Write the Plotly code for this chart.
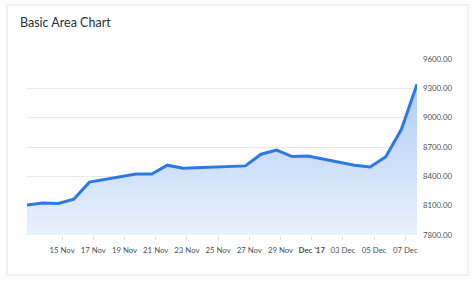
import plotly.graph_objects as go

dates = ["2017-11-13", "2017-11-14", "2017-11-15", "2017-11-16", "2017-11-17",
         "2017-11-20", "2017-11-21", "2017-11-22", "2017-11-23", "2017-11-24",
         "2017-11-27", "2017-11-28", "2017-11-29", "2017-11-30", "2017-12-01",
         "2017-12-04", "2017-12-05", "2017-12-06", "2017-12-07", "2017-12-08"]
prices = [8107.85, 8128.0, 8122.9, 8165.5, 8340.7,
          8423.7, 8423.5, 8514.3, 8481.85, 8487.7,
          8506.9, 8626.2, 8668.95, 8602.3, 8607.55,
          8512.9, 8496.25, 8600.65, 8881.1, 9340.85]

x_tick_vals = ["2017-11-15 06:00", "2017-11-17 06:00", "2017-11-19 06:00", "2017-11-21 06:00",
               "2017-11-23 06:00", "2017-11-25 06:00", "2017-11-27 06:00", "2017-11-29 06:00",
               "2017-12-01 06:00", "2017-12-03 06:00", "2017-12-05 06:00", "2017-12-07 06:00"]
x_tick_text = ["15 Nov", "17 Nov", "19 Nov", "21 Nov", "23 Nov", "25 Nov", "27 Nov",
               "29 Nov", "<b>Dec '17</b>", "03 Dec", "05 Dec", "07 Dec"]
y_tick_vals = [7800, 8100, 8400, 8700, 9000, 9300, 9600]
y_tick_text = ["7800.00", "8100.00", "8400.00", "8700.00", "9000.00", "9300.00", "9600.00"]

fig = go.Figure()
fig.add_trace(go.Scatter(
    x=dates, y=prices, mode="lines",
    line=dict(color="#2c78e4", width=3),
    fill="tozeroy",
    fillgradient=dict(type="vertical", start=7800, stop=max(prices),
                      colorscale=[[0, "rgba(233,241,253,1)"], [1, "rgba(176,205,246,1)"]]),
    hoverinfo="skip",
))

# card outline
fig.add_shape(type="rect", xref="paper", yref="paper",
              x0=(7 - 27) / 390, x1=(468 - 27) / 390,
              y0=(235 - 275) / 176, y1=(235 - 5) / 176,
              line=dict(color="#eeeeee", width=1.5), fillcolor="rgba(0,0,0,0)", layer="below")

fig.update_layout(
    width=474, height=285,
    margin=dict(l=27, r=57, t=59, b=50),
    paper_bgcolor="#ffffff", plot_bgcolor="#ffffff",
    showlegend=False,
    font=dict(family="Lato, 'Open Sans', sans-serif", color="#4a5053", size=7.8),
    title=dict(text="Basic Area Chart", x=20/474, xanchor="left", y=1-23/285, yanchor="middle",
               font=dict(family="Lato, 'Open Sans', sans-serif", size=12.5, color="#263238")),
)
fig.update_xaxes(
    type="date", range=["2017-11-13", "2017-12-08"],
    tickvals=x_tick_vals, ticktext=x_tick_text, tickangle=0,
    showgrid=False, zeroline=False, showline=False,
    ticks="outside", ticklen=4, tickcolor="#e0e0e0", ticklabelstandoff=4,
    tickfont=dict(size=7.8, color="#4a5053"),
)
fig.update_yaxes(
    side="right", range=[7800, 9600],
    tickvals=y_tick_vals, ticktext=y_tick_text,
    showgrid=True, gridcolor="#e8e8e8", zeroline=False, showline=False,
    ticks="", ticklabelstandoff=5,
    tickfont=dict(size=7.8, color="#4a5053"),
)

fig.write_html("out.html")
